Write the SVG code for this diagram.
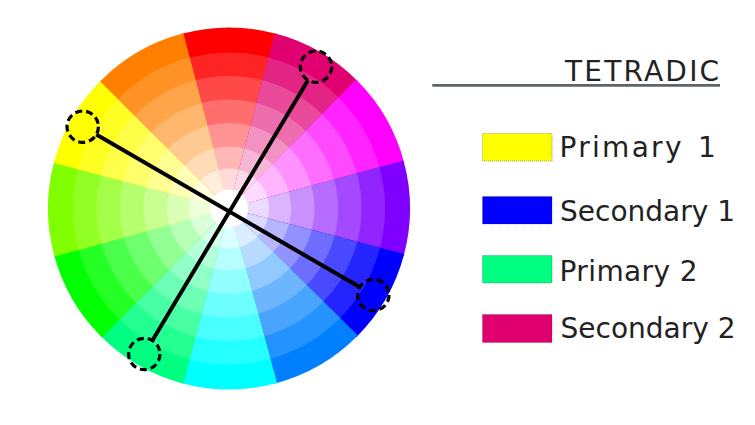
<svg xmlns="http://www.w3.org/2000/svg" xmlns:xlink="http://www.w3.org/1999/xlink" width="755" height="425" viewBox="0 0 755 425">
<style>
.ring{fill:none;stroke:#000;stroke-width:3.2;stroke-dasharray:7 4}
.conn{stroke:#000;stroke-width:4;stroke-linecap:butt}
.lbl{font-family:"DejaVu Sans","Verdana","Liberation Sans",sans-serif;font-size:28px;fill:#222}
.sw{stroke:rgba(0,0,0,0.35);stroke-width:1;stroke-dasharray:1 1}
</style>
<defs>
<path id="b0" d="M0 0 L-48.07 -174.5 A181 181 0 0 1 48.07 -174.5 Z"/>
<path id="b1" d="M0 0 L-41.43 -150.4 A156 156 0 0 1 41.43 -150.4 Z"/>
<path id="b2" d="M0 0 L-35.19 -127.74 A132.5 132.5 0 0 1 35.19 -127.74 Z"/>
<path id="b3" d="M0 0 L-28.95 -105.09 A109 109 0 0 1 28.95 -105.09 Z"/>
<path id="b4" d="M0 0 L-22.71 -82.43 A85.5 85.5 0 0 1 22.71 -82.43 Z"/>
<path id="b5" d="M0 0 L-16.46 -59.77 A62 62 0 0 1 16.46 -59.77 Z"/>
<path id="b6" d="M0 0 L-10.62 -38.56 A40 40 0 0 1 10.62 -38.56 Z"/>
</defs>
<rect width="755" height="425" fill="#fff"/>
<g id="wheel" transform="translate(229 208.5)">
<g id="seg-red" transform="rotate(0)"><use href="#b0" fill="#FF0000"/><use href="#b1" fill="#FF2424"/><use href="#b2" fill="#FF4949"/><use href="#b3" fill="#FF6D6D"/><use href="#b4" fill="#FF9292"/><use href="#b5" fill="#FFB6B6"/><use href="#b6" fill="#FFDBDB"/></g>
<g id="seg-rose" transform="rotate(30)"><use href="#b0" fill="#E00070"/><use href="#b1" fill="#E42484"/><use href="#b2" fill="#E94999"/><use href="#b3" fill="#ED6DAD"/><use href="#b4" fill="#F292C2"/><use href="#b5" fill="#F6B6D6"/><use href="#b6" fill="#FBDBEB"/></g>
<g id="seg-magenta" transform="rotate(60)"><use href="#b0" fill="#FF00FF"/><use href="#b1" fill="#FF24FF"/><use href="#b2" fill="#FF49FF"/><use href="#b3" fill="#FF6DFF"/><use href="#b4" fill="#FF92FF"/><use href="#b5" fill="#FFB6FF"/><use href="#b6" fill="#FFDBFF"/></g>
<g id="seg-violet" transform="rotate(90)"><use href="#b0" fill="#8000FF"/><use href="#b1" fill="#9224FF"/><use href="#b2" fill="#A449FF"/><use href="#b3" fill="#B66DFF"/><use href="#b4" fill="#C992FF"/><use href="#b5" fill="#DBB6FF"/><use href="#b6" fill="#EDDBFF"/></g>
<g id="seg-blue" transform="rotate(120)"><use href="#b0" fill="#0000FF"/><use href="#b1" fill="#2424FF"/><use href="#b2" fill="#4949FF"/><use href="#b3" fill="#6D6DFF"/><use href="#b4" fill="#9292FF"/><use href="#b5" fill="#B6B6FF"/><use href="#b6" fill="#DBDBFF"/></g>
<g id="seg-azure" transform="rotate(150)"><use href="#b0" fill="#0080FF"/><use href="#b1" fill="#2492FF"/><use href="#b2" fill="#49A4FF"/><use href="#b3" fill="#6DB6FF"/><use href="#b4" fill="#92C9FF"/><use href="#b5" fill="#B6DBFF"/><use href="#b6" fill="#DBEDFF"/></g>
<g id="seg-cyan" transform="rotate(180)"><use href="#b0" fill="#00FFFF"/><use href="#b1" fill="#24FFFF"/><use href="#b2" fill="#49FFFF"/><use href="#b3" fill="#6DFFFF"/><use href="#b4" fill="#92FFFF"/><use href="#b5" fill="#B6FFFF"/><use href="#b6" fill="#DBFFFF"/></g>
<g id="seg-spring" transform="rotate(210)"><use href="#b0" fill="#00FF80"/><use href="#b1" fill="#24FF92"/><use href="#b2" fill="#49FFA4"/><use href="#b3" fill="#6DFFB6"/><use href="#b4" fill="#92FFC9"/><use href="#b5" fill="#B6FFDB"/><use href="#b6" fill="#DBFFED"/></g>
<g id="seg-green" transform="rotate(240)"><use href="#b0" fill="#00FF00"/><use href="#b1" fill="#24FF24"/><use href="#b2" fill="#49FF49"/><use href="#b3" fill="#6DFF6D"/><use href="#b4" fill="#92FF92"/><use href="#b5" fill="#B6FFB6"/><use href="#b6" fill="#DBFFDB"/></g>
<g id="seg-chartreuse" transform="rotate(270)"><use href="#b0" fill="#80FF00"/><use href="#b1" fill="#92FF24"/><use href="#b2" fill="#A4FF49"/><use href="#b3" fill="#B6FF6D"/><use href="#b4" fill="#C9FF92"/><use href="#b5" fill="#DBFFB6"/><use href="#b6" fill="#EDFFDB"/></g>
<g id="seg-yellow" transform="rotate(300)"><use href="#b0" fill="#FFFF00"/><use href="#b1" fill="#FFFF24"/><use href="#b2" fill="#FFFF49"/><use href="#b3" fill="#FFFF6D"/><use href="#b4" fill="#FFFF92"/><use href="#b5" fill="#FFFFB6"/><use href="#b6" fill="#FFFFDB"/></g>
<g id="seg-orange" transform="rotate(330)"><use href="#b0" fill="#FF8000"/><use href="#b1" fill="#FF9224"/><use href="#b2" fill="#FFA449"/><use href="#b3" fill="#FFB66D"/><use href="#b4" fill="#FFC992"/><use href="#b5" fill="#FFDBB6"/><use href="#b6" fill="#FFEDDB"/></g>
<circle cx="0" cy="0" r="19" fill="#fff"/>
</g>
<g id="connectors">
<line class="conn" x1="96.3" y1="134.6" x2="359.7" y2="287.1"/>
<line class="conn" x1="307.95" y1="80.2" x2="152.35" y2="340.5"/>
</g>
<g id="node-primary1-marker"><circle class="ring" cx="82.7" cy="126.7" r="15.7"/></g>
<g id="node-secondary2-marker"><circle class="ring" cx="316" cy="66.7" r="15.7"/></g>
<g id="node-secondary1-marker"><circle class="ring" cx="373.3" cy="295" r="15.7"/></g>
<g id="node-primary2-marker"><circle class="ring" cx="144.3" cy="354" r="15.7"/></g>
<g id="title">
<text class="lbl" x="565" y="80.7" letter-spacing="2.2">TETRADIC</text>
<line x1="432.3" y1="85.3" x2="720" y2="85.3" stroke="#5d6468" stroke-width="2.7"/>
</g>
<g id="legend-primary1"><rect class="sw" x="482.5" y="133.5" width="69.5" height="27.5" fill="#FFFF00"/><text class="lbl" x="559.5" y="156.5" letter-spacing="2.3">Primary <tspan dx="3">1</tspan></text></g>
<g id="legend-secondary1"><rect class="sw" x="482.5" y="196.5" width="69.5" height="27.5" fill="#0000FF"/><text class="lbl" x="560" y="220.5">Secondary 1</text></g>
<g id="legend-primary2"><rect class="sw" x="482.5" y="255.5" width="69.5" height="27.5" fill="#00FF80"/><text class="lbl" x="559.5" y="281" letter-spacing="0.4">Primary 2</text></g>
<g id="legend-secondary2"><rect class="sw" x="482.5" y="314.5" width="69.5" height="28" fill="#E00070"/><text class="lbl" x="560.5" y="337.5">Secondary 2</text></g>
</svg>
